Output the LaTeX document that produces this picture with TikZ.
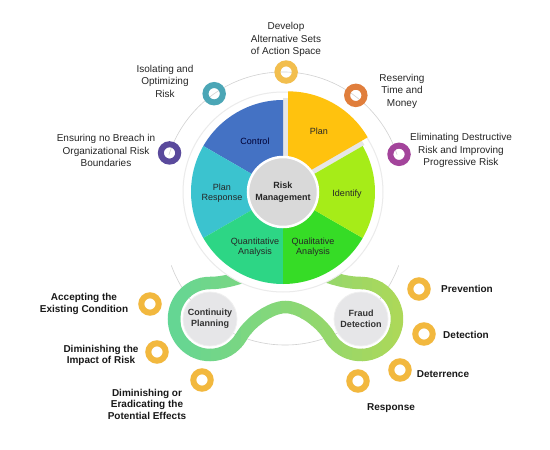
\documentclass[tikz,border=0pt]{standalone}
\usepackage{fontspec}
\setmainfont{Liberation Sans}
\definecolor{cControl}{HTML}{4472C4}
\definecolor{cResp}{HTML}{3BC3CF}
\definecolor{cQuant}{HTML}{2DD685}
\definecolor{cQual}{HTML}{36DC26}
\definecolor{cIdent}{HTML}{A6EC18}
\definecolor{cPlan}{HTML}{FFC20E}
\definecolor{cShadow}{HTML}{E6E6E6}
\definecolor{cDev}{HTML}{F2BE4E}
\definecolor{cIso}{HTML}{4BA6B6}
\definecolor{cRes}{HTML}{E07E3C}
\definecolor{cEli}{HTML}{A3449B}
\definecolor{cEns}{HTML}{5A4A9C}
\definecolor{cGold}{HTML}{F2B83E}
\definecolor{bandL}{HTML}{62D696}
\definecolor{bandR}{HTML}{B2D854}
\definecolor{cHub}{HTML}{D9D9D9}
\definecolor{cSub}{HTML}{E6E6E8}
\tikzset{
  ring/.style={draw=#1, line width=6pt, circle, minimum size=17.4pt, inner sep=0pt},
  toplbl/.style={font=\fontsize{10}{12.5}\selectfont, align=center, text=black!85},
  botlbl/.style={font=\fontsize{10}{11.5}\selectfont\bfseries, align=center, text=black!90},
  pielbl/.style={font=\fontsize{9}{9.5}\selectfont, align=center, text=black!85},
  hub/.style={circle, fill=cHub, draw=white, line width=2.5pt, minimum size=70pt, inner sep=0pt, font=\fontsize{9}{12.5}\selectfont\bfseries, align=center, text=black!85},
  sub/.style={circle, fill=cSub, draw=black!6, line width=0.8pt, minimum size=54pt, inner sep=0pt, font=\fontsize{9}{11}\selectfont\bfseries, align=center, text=black!80},
  guide/.style={draw=black!18, line width=0.6pt}
}
\begin{document}
\begin{tikzpicture}[x=1pt,y=1pt]
\useasboundingbox (0,0) rectangle (550,-450);
\fill[white] (0,0) rectangle (550,-450);
\coordinate (P) at (283,-192);
\coordinate (Q) at (285,-224);
% guide arcs
\draw[guide] ([shift={(18:120)}]P) arc[start angle=18,end angle=162,radius=120];
\draw[guide] ([shift={(200:121)}]Q) arc[start angle=200,end angle=340,radius=121];
% band with horizontal gradient
\def\bandpath{(265,-268) .. controls (245,-277) and (226,-283) .. (210,-283)
  arc[start angle=90,end angle=330,radius=36]
  .. controls (249,-323) and (270,-307) .. (285.5,-307)
  .. controls (301,-307) and (322,-323) .. (329.8,-337)
  arc[start angle=210,end angle=450,radius=36]
  .. controls (345,-283) and (325,-277) .. (306,-268)}
\foreach \i in {0,...,24}{
  \pgfmathsetmacro{\xa}{160+\i*10.1}
  \pgfmathsetmacro{\xb}{\xa+10.6}
  \pgfmathsetmacro{\pp}{100-\i*4}
  \begin{scope}
    \clip (\xa,-250) rectangle (\xb,-380);
    \draw[bandL!\pp!bandR, line width=12.5pt] \bandpath;
  \end{scope}
}
% pie
\begin{scope}[shift={(P)}]
  \fill[white] (0,0) circle (100);
  \draw[black!8, line width=1pt] (0,0) circle (100);
  \fill[cShadow] (0,0) -- (30:94) arc[start angle=30,end angle=90,radius=94] -- cycle;
  \fill[cControl] (0,0) -- (90:92) arc[start angle=90,end angle=150,radius=92] -- cycle;
  \fill[cResp] (0,0) -- (150:92) arc[start angle=150,end angle=210,radius=92] -- cycle;
  \fill[cQuant] (0,0) -- (210:92) arc[start angle=210,end angle=270,radius=92] -- cycle;
  \fill[cQual] (0,0) -- (270:92) arc[start angle=270,end angle=330,radius=92] -- cycle;
  \fill[cIdent] (0,0) -- (330:92) arc[start angle=330,end angle=390,radius=92] -- cycle;
  \begin{scope}[shift={(60:10)}]
    \fill[cPlan] (0,0) -- (30:92) arc[start angle=30,end angle=90,radius=92] -- cycle;
  \end{scope}
\end{scope}
\node[hub] (hub) at (P) {Risk\\Management};
\node[pielbl, text=black!80!blue] (l-ctl) at (255,-141) {Control};
\node[pielbl] (l-plan) at (319,-131) {Plan};
\node[pielbl] (l-ide) at (347,-194) {Identify};
\node[pielbl] (l-qual) at (313,-247) {Qualitative\\Analysis};
\node[pielbl] (l-quan) at (255,-247) {Quantitative\\Analysis};
\node[pielbl] (l-resp) at (222,-193) {Plan\\Response};
% sub circles
\node[sub] (cont) at (210,-319) {Continuity\\Planning};
\node[sub] (fraud) at (361,-319) {Fraud\\Detection};
% top rings
\begin{scope}[shift={(P)}]
  \node[ring=cEns] (r-ens) at (161:120) {};
  \node[ring=cIso] (r-iso) at (125:120) {};
  \node[ring=cDev] (r-dev) at (88.5:120) {};
  \node[ring=cRes] (r-res) at (53:121) {};
  \node[ring=cEli] (r-eli) at (18:122) {};
\end{scope}
\node[toplbl] (t-dev) at (286,-39.5) {Develop\\Alternative Sets\\of Action Space};
\node[toplbl] (t-iso) at (165,-81) {Isolating and\\Optimizing\\Risk};
\node[toplbl] (t-ens) at (106,-150.5) {Ensuring no Breach in\\Organizational Risk\\Boundaries};
\node[toplbl] (t-res) at (402,-91) {Reserving\\Time and\\Money};
\node[toplbl] (t-eli) at (461,-150.5) {Eliminating Destructive\\Risk and Improving\\Progressive Risk};
% bottom rings
\node[ring=cGold] (r-acc) at (150,-304) {};
\node[ring=cGold] (r-dim) at (157,-352) {};
\node[ring=cGold] (r-dor) at (202,-380) {};
\node[ring=cGold] (r-prev) at (419,-289) {};
\node[ring=cGold] (r-det) at (424,-334) {};
\node[ring=cGold] (r-deter) at (400,-370) {};
\node[ring=cGold] (r-resp) at (358,-381) {};
\node[botlbl] (b-acc) at (84,-304) {Accepting the\\Existing Condition};
\node[botlbl] (b-dim) at (101,-355.5) {Diminishing the\\Impact of Risk};
\node[botlbl] (b-dor) at (147,-404) {Diminishing or\\Eradicating the\\Potential Effects};
\node[botlbl] (b-prev) at (467,-289) {Prevention};
\node[botlbl] (b-det) at (466,-335) {Detection};
\node[botlbl] (b-deter) at (443,-374) {Deterrence};
\node[botlbl] (b-resp) at (391,-408) {Response};
\end{tikzpicture}
\end{document}
